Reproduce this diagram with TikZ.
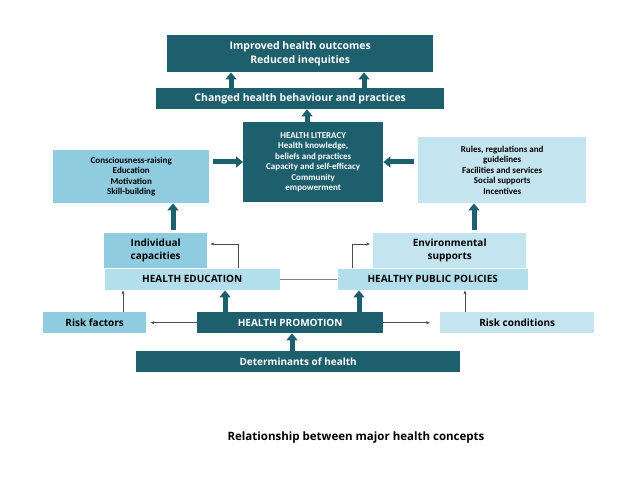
\documentclass[tikz,border=0pt]{standalone}
\usepackage{fontspec}
\setmainfont{Open Sans}
\newfontfamily\carfont{Carlito}
\usetikzlibrary{arrows.meta}
\definecolor{dk}{HTML}{1E5F6D}
\definecolor{lb}{HTML}{8FCCDF}
\definecolor{pb}{HTML}{C4E5EF}
\definecolor{mb}{HTML}{B3DEEC}
\begin{document}
\begin{tikzpicture}[x=1pt,y=-1pt,
 box/.style={anchor=north west,inner sep=0pt,align=center,font=\bfseries\fontsize{8}{9.5}\selectfont},
 darkbox/.style={box,fill=dk,text=white},
 fat/.style={line width=5pt,draw=dk,-{Triangle[width=11pt,length=7pt]}},
 thin/.style={draw=black!70,line width=0.6pt,-{Stealth[length=4pt]}}]
\useasboundingbox (0,0) rectangle (638,478);
\node[darkbox,minimum width=266,minimum height=37,font=\bfseries\fontsize{10.5}{14}\selectfont] (top) at (167,35) {Improved health outcomes\\Reduced inequities};
\node[darkbox,minimum width=288,minimum height=21,font=\bfseries\fontsize{10.5}{12}\selectfont] (chg) at (156,88) {Changed health behaviour and practices};
\node[darkbox,minimum width=140,minimum height=80,font=\carfont\bfseries\fontsize{9}{10.5}\selectfont] (hl) at (243,122) {HEALTH LITERACY\\Health knowledge,\\beliefs and practices\\Capacity and self-efficacy\\Community\\empowerment};
\node[box,fill=lb,minimum width=156,minimum height=53,font=\carfont\bfseries\fontsize{9}{10.5}\selectfont] (lft) at (53,150) {Consciousness-raising\\Education\\Motivation\\Skill-building};
\node[box,fill=pb,minimum width=168,minimum height=66,font=\carfont\bfseries\fontsize{9}{10.5}\selectfont] (rgt) at (418,137) {Rules, regulations and\\guidelines\\Facilities and services\\Social supports\\Incentives};
\node[box,fill=lb,minimum width=103,minimum height=35,font=\bfseries\fontsize{10}{13}\selectfont] (ic) at (104,233) {Individual\\capacities};
\node[box,fill=pb,minimum width=153,minimum height=35,font=\bfseries\fontsize{10}{13}\selectfont] (env) at (373,233) {Environmental\\supports};
\node[box,fill=mb,draw=white,minimum width=176,minimum height=22,font=\bfseries\fontsize{10}{12}\selectfont] (he) at (104,268) {HEALTH EDUCATION};
\node[box,fill=mb,draw=white,minimum width=191,minimum height=22,font=\bfseries\fontsize{10}{12}\selectfont] (hpp) at (337,268) {HEALTHY PUBLIC POLICIES};
\node[box,fill=lb,minimum width=103,minimum height=21,font=\bfseries\fontsize{10}{12}\selectfont] (rf) at (43,312) {Risk factors};
\node[darkbox,minimum width=186,minimum height=21,font=\bfseries\fontsize{10}{12}\selectfont] (hp) at (197,312) {HEALTH PROMOTION};
\node[box,fill=pb,minimum width=154,minimum height=21,font=\bfseries\fontsize{10}{12}\selectfont] (rc) at (440,312) {Risk conditions};
\node[darkbox,minimum width=324,minimum height=21,font=\bfseries\fontsize{10}{12}\selectfont] (det) at (136,351) {Determinants of health};
\node[font=\bfseries\fontsize{11.5}{13}\selectfont,anchor=center] (cap) at (356,438) {Relationship between major health concepts};
% fat arrows
\draw[fat] (chg.north -| 231,0) -- (top.south -| 231,0);
\draw[fat] (chg.north -| 364,0) -- (top.south -| 364,0);
\draw[fat] (hl.north -| 307,0) -- (chg.south -| 307,0);
\draw[fat] (lft.east |- 0,162) ++(4,0) -- (hl.west |- 0,162);
\draw[fat] (rgt.west |- 0,162) ++(-4,0) -- (hl.east |- 0,162);
\draw[fat] (ic.north -| 173,0) ++(0,-3) -- (lft.south -| 173,0);
\draw[fat] (env.north -| 474,0) ++(0,-3) -- (rgt.south -| 474,0);
\draw[fat] (hp.north -| 225,0) -- (he.south -| 225,0);
\draw[fat] (hp.north -| 359,0) -- (hpp.south -| 359,0);
\draw[fat] (det.north -| 292,0) -- (hp.south -| 292,0);
% thin
\draw[thin] (hp.west) -- ([xshift=4pt]rf.east);
\draw[thin] (hp.east) -- ([xshift=-10pt]rc.west);
\draw[thin] (rf.north -| 123,0) -- (he.south -| 123,0);
\draw[thin] (rc.north -| 465,0) -- (hpp.south -| 465,0);
\draw[thin] (he.north -| 238,0) |- ([xshift=3pt]ic.east |- 0,244);
\draw[thin] (hpp.north -| 352,0) |- ([xshift=-3pt]env.west |- 0,244);
\draw[draw=black!50,line width=0.5pt] (he.east) -- (hpp.west);
\end{tikzpicture}
\end{document}
